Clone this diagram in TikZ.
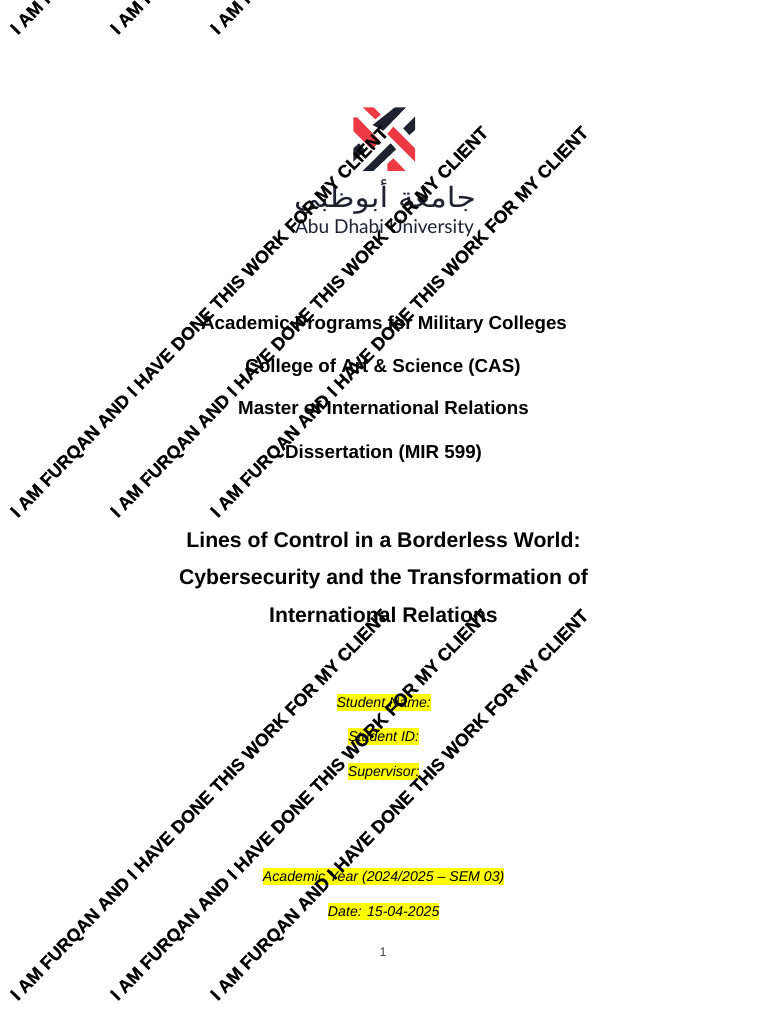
\documentclass[tikz,border=0pt]{standalone}
\usepackage{fontspec}
\setmainfont{Liberation Sans}
\newfontfamily\arabicfont[Script=Arabic]{DejaVu Sans}
\newfontfamily\logofont{Lato}
\newfontfamily\stampfont[FakeBold=0.35]{Liberation Sans Bold}
\TeXXeTstate=1
\definecolor{logored}{HTML}{EE3A45}
\definecolor{logonavy}{HTML}{1E2230}
\definecolor{hl}{HTML}{FFFF00}
\tikzset{
  head/.style={font=\fontsize{18.75}{20}\selectfont\bfseries,anchor=base,inner sep=0pt},
  titleline/.style={font=\fontsize{21.2}{23}\selectfont\bfseries,anchor=base,inner sep=0pt},
  field/.style={font=\fontsize{14.15}{16}\selectfont\itshape,fill=hl,inner sep=0pt,minimum height=17pt,text depth=3.5pt,text height=13.5pt},
  stamp/.style={font=\stampfont\fontsize{17.9}{20}\selectfont,rotate=46,inner sep=0pt,text=black},
  redbar/.style={fill=logored,draw=none},
  navybar/.style={fill=logonavy,draw=none},
}
\begin{document}
\begin{tikzpicture}[x=1pt,y=-1pt]
\useasboundingbox (0,0) rectangle (768,1024);
\fill[white] (0,0) rectangle (768,1024);
% logo
\fill[black!0.35] (275,88) rectangle (495,255);
\fill[redbar] (362.7,107.3) -- (373.3,107.3) -- (380.7,114.7) -- (375.3,119.3) -- cycle;
\fill[navybar] (395,107.3) -- (406,107.3) -- (383.3,130.7) -- (372.7,125) -- cycle;
\fill[navybar] (415,116.7) -- (415,130) -- (409.3,135) -- (403.3,128.3) -- cycle;
\fill[redbar] (353.3,117.3) -- (357,117.3) -- (380,141) -- (372,149.5) -- (353.3,131) -- cycle;
\fill[redbar] (393.3,126.7) -- (415,148.3) -- (415,161.7) -- (387.3,134) -- cycle;
\fill[navybar] (353.3,148.5) -- (359,143.3) -- (365,150) -- (353.3,161.7) -- cycle;
\fill[navybar] (390.7,143.3) -- (396,149.3) -- (373.3,171) -- (362.7,171) -- cycle;
\fill[redbar] (393.3,158.3) -- (405.7,171) -- (387.3,171) -- (387.3,164) -- cycle;
\node[font=\arabicfont\fontsize{28}{30}\selectfont,text=logonavy,inner sep=0pt,xscale=1.12] (logoar) at (385,197) {\beginR جامعة أبوظبي\endR};
\node[font=\logofont\fontsize{19.1}{21}\selectfont,text=logonavy,inner sep=0pt] (logoen) at (384.5,228) {Abu Dhabi University};
% headings
\node[head] (h1) at (384,329) {Academic Programs for Military Colleges};
\node[head] (h2) at (383,372) {College of Art \& Science (CAS)};
\node[head] (h3) at (383.5,414.5) {Master of International Relations};
\node[head] (h4) at (383.5,458) {Dissertation (MIR 599)};
\node[titleline] (t1) at (383.5,547) {Lines of Control in a Borderless World:};
\node[titleline] (t2) at (383.5,584) {Cybersecurity and the Transformation of};
\node[titleline] (t3) at (383.5,622) {International Relations};
% fields
\node[field] (f1) at (383.7,702) {Student Name:};
\node[field] (f2) at (383.7,736.5) {Student ID:};
\node[field] (f3) at (383.7,771.5) {Supervisor:};
\node[field] (f4) at (383.7,876) {Academic Year (2024/2025 – SEM 03)};
\node[field] (f5) at (383.7,911) {Date: 15-04-2025};
\node[font=\fontsize{12.5}{14}\selectfont,text=black!75,inner sep=0pt] (pageno) at (383,952.5) {1};
% watermark
\foreach \c in {0,1,2}{
  \foreach \r in {0,1,2}{
    \node[stamp] (wm\c\r) at ({200.5+100*\c},{-160+483*\r}) {I AM FURQAN AND I HAVE DONE THIS WORK FOR MY CLIENT};
  }
}
\end{tikzpicture}
\end{document}
